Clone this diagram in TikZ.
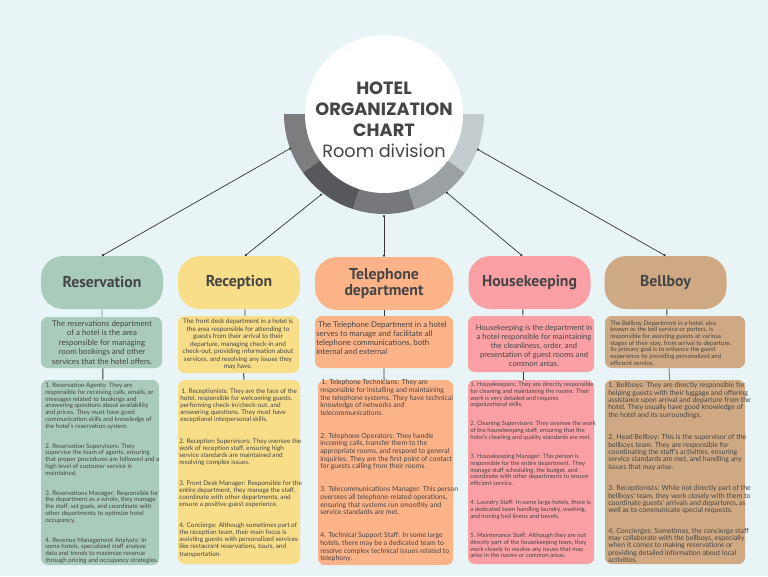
\documentclass[tikz,border=0pt]{standalone}
\usepackage{fontspec}
\setmainfont{Lato}
\newfontfamily\titlefont{Poppins}
\newfontfamily\headfont{PT Sans}
\usetikzlibrary{arrows.meta}
\definecolor{pagebg}{HTML}{E9F4F6}
\definecolor{inkgray}{HTML}{454545}
\definecolor{linkgray}{HTML}{3A3A3C}
\definecolor{resgreen}{HTML}{A9CBBB}
\definecolor{recyellow}{HTML}{F9DE8A}
\definecolor{telorange}{HTML}{FDB388}
\definecolor{houpink}{HTML}{FAA0A5}
\definecolor{beltan}{HTML}{CFA983}
\definecolor{ringA}{HTML}{7D7D80}
\definecolor{ringB}{HTML}{58585C}
\definecolor{ringC}{HTML}{77787C}
\definecolor{ringD}{HTML}{9BA0A3}
\definecolor{ringE}{HTML}{C3CCCF}
\tikzset{
  headbox/.style={rounded corners=16.5pt,minimum width=#1,minimum height=39.75pt,inner sep=0pt,align=center,text=inkgray,
    font=\headfont\bfseries\fontsize{11.8}{12.6}\selectfont},
  panel/.style={rounded corners=5pt,inner sep=0pt},
  bodytext/.style 2 args={inner sep=0pt,text=inkgray,font=\fontsize{#1}{#2}\selectfont},
  hublink/.style={draw=linkgray,line width=0.55pt,{Circle[length=1.7pt]}-{Circle[length=1.7pt]}},
  boxlink/.style={draw=linkgray,line width=0.7pt},
}
\begin{document}
\begin{tikzpicture}[x=0.75pt,y=0.75pt,yscale=-1,xscale=1]
  \useasboundingbox (0,0) rectangle (768,576);
  \fill [pagebg] (0,0) rectangle (768,576);

  %Shape: ring of five segments
  \foreach \i/\ringcol in {0/ringA,1/ringB,2/ringC,3/ringD,4/ringE}
    \fill [\ringcol,shift={(384,114)}] (180-36*\i:100) arc [start angle=180-36*\i,end angle=144-36*\i,radius=100] -- (144-36*\i:70) arc [start angle=144-36*\i,end angle=180-36*\i,radius=70] -- cycle;

  %Shape: hub circle
  \node (hub) [circle,fill=white,minimum size=118.5pt,inner sep=0pt] at (384,114) {};
  % Text Node
  \node (hubtitle) [align=center,text=inkgray,inner sep=0pt,font=\titlefont\bfseries\fontsize{13.3}{15.75}\selectfont] at (384,109) {HOTEL\\ORGANIZATION\\CHART};
  % Text Node
  \node (hubsub) [text=inkgray,inner sep=0pt,font=\titlefont\fontsize{13.3}{15.75}\selectfont] at (384,151) {Room division};

  %Shape: department headers
  \node (reservation) [headbox=91.5pt,fill=resgreen] at (102,282.5) {Reservation};
  \node (reception) [headbox=91.5pt,fill=recyellow] at (239,282.5) {Reception};
  \node (telephone) [headbox=103.5pt,fill=telorange] at (384,283.5) {Telephone\\department};
  \node (housekeeping) [headbox=91.5pt,fill=houpink] at (529.5,282.5) {Housekeeping};
  \node (bellboy) [headbox=91.5pt,fill=beltan] at (665.5,282.5) {Bellboy};

  %Shape: description panels
  \node (resDesc) [panel,fill=resgreen,minimum width=90.75pt,minimum height=38.25pt] at (101.5,342.5) {};
  \node (recDesc) [panel,fill=recyellow,minimum width=90.75pt,minimum height=42.75pt] at (238.5,344.5) {};
  \node (telDesc) [panel,fill=telorange,minimum width=103.5pt,minimum height=39pt] at (384,342) {};
  \node (houDesc) [panel,fill=houpink,minimum width=94.5pt,minimum height=42pt] at (531,344) {};
  \node (belDesc) [panel,fill=beltan,minimum width=105pt,minimum height=39pt] at (675,342) {};

  %Shape: list panels
  \node (resList) [panel,fill=resgreen,minimum width=88.5pt,minimum height=138.75pt] at (100,472.5) {};
  \node (recList) [panel,fill=recyellow,minimum width=91.5pt,minimum height=138pt] at (239,472) {};
  \node (telList) [panel,fill=telorange,minimum width=101.25pt,minimum height=138.75pt] at (385.5,472.5) {};
  \node (houList) [panel,fill=houpink,minimum width=94.5pt,minimum height=138pt] at (531,472) {};
  \node (belList) [panel,fill=beltan,minimum width=105pt,minimum height=138pt] at (675,472) {};

  %Straight Lines: hub to departments
  \coordinate (ringResv) at (291,148);
  \coordinate (ringRecp) at (322,194);
  \coordinate (ringTele) at (384,215);
  \coordinate (ringHous) at (446,192);
  \coordinate (ringBell) at (477,149);
  \draw [hublink] (ringResv) -- (reservation.north);
  \draw [hublink] (ringRecp) -- ([xshift=4.5pt]reception.north);
  \draw [hublink] (ringTele) -- (telephone.north);
  \draw [hublink] (ringHous) -- ([xshift=-5.5pt]housekeeping.north);
  \draw [hublink] (ringBell) -- (bellboy.north);

  %Straight Lines: header to panel to list
  \draw [boxlink,draw=gray] (reservation.south) -- ([xshift=0.4pt]resDesc.north);
  \draw [boxlink] ([xshift=1pt]resDesc.south) -- ([xshift=2.2pt]resList.north);
  \draw [boxlink] ([xshift=4.5pt]reception.south) -- ([xshift=4.9pt]recDesc.north);
  \draw [boxlink] ([xshift=3.8pt]recDesc.south) -- ([xshift=3.8pt]recList.north);
  \draw [boxlink] (telephone.south) -- (telDesc.north);
  \draw [boxlink] (telDesc.south) -- ([xshift=-1.1pt]telList.north);
  \draw [boxlink] ([xshift=-5pt]housekeeping.south) -- ([xshift=-6pt]houDesc.north);
  \draw [boxlink] ([xshift=-6pt]houDesc.south) -- ([xshift=-6pt]houList.north);
  \draw [boxlink] ([xshift=1pt]bellboy.south) -- ([xshift=-6pt]belDesc.north);
  \draw [boxlink,draw=gray] ([xshift=-4.5pt]belDesc.south) -- ([xshift=-4pt]belList.north);

  % Text Node: descriptions
  \node (resDescText) [bodytext={5.9}{7.2},align=center] at (102,342.5) {The reservations department\\of a hotel is the area\\responsible for managing\\room bookings and other\\services that the hotel offers.};
  \node (recDescText) [bodytext={4.85}{5.6},align=center] at (238,344.5) {The front desk department in a hotel is\\the area responsible for attending to\\guests from their arrival to their\\departure, managing check-in and\\check-out, providing information about\\services, and resolving any issues they\\may have.};
  \node (telDescText) [bodytext={5.9}{6.75},align=left,anchor=north west] at (316,321) {\hspace*{1.5pt}The Telephone Department in a hotel\\serves to manage and facilitate all\\telephone communications, both\\internal and external};
  \node (houDescText) [bodytext={5.7}{6.75},align=center] at (534,346) {Housekeeping is the department in\\a hotel responsible for maintaining\\the cleanliness, order, and\\presentation of guest rooms and\\common areas.};
  \node (belDescText) [bodytext={4.6}{5},align=left,anchor=north west] at (610,320.5) {The Bellboy Department in a hotel, also\\known as the bell service or porters, is\\responsible for assisting guests at various\\stages of their stay, from arrival to departure.\\Its primary goal is to enhance the guest\\experience by providing personalized and\\efficient service.};

  % Text Node: reservation list
  \begin{scope}[every node/.style={bodytext={4.65}{5.15},align=left,anchor=north west}]
    \node (resItemA) at (45,382.5) {1. Reservation Agents: They are\\responsible for receiving calls, emails, or\\messages related to bookings and\\answering questions about availability\\and prices. They must have good\\communication skills and knowledge of\\the hotel's reservation system.};
    \node (resItemB) at (45,443.2) {2. Reservation Supervisors: They\\supervise the team of agents, ensuring\\that proper procedures are followed and a\\high level of customer service is\\maintained.};
    \node (resItemC) at (45,490.2) {3. Reservations Manager: Responsible for\\the department as a whole, they manage\\the staff, set goals, and coordinate with\\other departments to optimize hotel\\occupancy.};
    \node (resItemD) at (45,537.2) {4. Revenue Management Analysts: In\\some hotels, specialized staff analyze\\data and trends to maximize revenue\\through pricing and occupancy strategies.};
  \end{scope}

  % Text Node: reception list
  \begin{scope}[every node/.style={bodytext={4.8}{5.3},align=left,anchor=north west}]
    \node (recItemA) at (180,388.5) {\hspace*{0.8pt}1. Receptionists: They are the face of the\\hotel, responsible for welcoming guests,\\performing check-in/check-out, and\\answering questions. They must have\\exceptional interpersonal skills.};
    \node (recItemB) at (179,438.5) {2. Reception Supervisors: They oversee the\\work of reception staff, ensuring high\\service standards are maintained and\\resolving complex issues.};
    \node (recItemC) at (179,480.5) {3. Front Desk Manager: Responsible for the\\entire department, they manage the staff,\\coordinate with other departments, and\\ensure a positive guest experience.};
    \node (recItemD) at (179,522.8) {4. Concierge: Although sometimes part of\\the reception team, their main focus is\\assisting guests with personalized services\\like restaurant reservations, tours, and\\transportation.};
  \end{scope}

  % Text Node: telephone list
  \begin{scope}[every node/.style={bodytext={5.2}{5.7},align=left,anchor=north west}]
    \node (telItemA) at (320,379.5) {\hspace*{0.8pt}1. Telephone Technicians: They are\\responsible for installing and maintaining\\the telephone systems. They have technical\\knowledge of networks and\\telecommunications.};
    \node (telItemB) at (320,433) {2. Telephone Operators: They handle\\incoming calls, transfer them to the\\appropriate rooms, and respond to general\\inquiries. They are the first point of contact\\for guests calling from their rooms.};
    \node (telItemC) at (320,486.5) {3. Telecommunications Manager: This person\\oversees all telephone-related operations,\\ensuring that systems run smoothly and\\service standards are met.};
    \node (telItemD) at (320,532.5) {4. Technical Support Staff: In some large\\hotels, there may be a dedicated team to\\resolve complex technical issues related to\\telephony.};
  \end{scope}

  % Text Node: housekeeping list
  \begin{scope}[every node/.style={bodytext={4.5}{5},align=left,anchor=north west}]
    \node (houItemA) at (470,382.2) {1. Housekeepers: They are directly responsible\\for cleaning and maintaining the rooms. Their\\work is very detailed and requires\\organizational skills.};
    \node (houItemB) at (470,421.2) {2. Cleaning Supervisors: They oversee the work\\of the housekeeping staff, ensuring that the\\hotel's cleaning and quality standards are met.};
    \node (houItemC) at (470,454.2) {3. Housekeeping Manager: This person is\\responsible for the entire department. They\\manage staff scheduling, the budget, and\\coordinate with other departments to ensure\\efficient service.};
    \node (houItemD) at (470,500.2) {4. Laundry Staff: In some large hotels, there is\\a dedicated team handling laundry, washing,\\and ironing bed linens and towels.};
    \node (houItemE) at (470,533.2) {5. Maintenance Staff: Although they are not\\directly part of the housekeeping team, they\\work closely to resolve any issues that may\\arise in the rooms or common areas.};
  \end{scope}

  % Text Node: bellboy list
  \begin{scope}[every node/.style={bodytext={5.25}{5.5},align=left,anchor=north west}]
    \node (belItemA) at (608,382.5) {1. Bellboys: They are directly responsible for\\helping guests with their luggage and offering\\assistance upon arrival and departure from the\\hotel. They usually have good knowledge of\\the hotel and its surroundings.};
    \node (belItemB) at (608,434.5) {2. Head Bellboy: This is the supervisor of the\\bellboys team. They are responsible for\\coordinating the staff's activities, ensuring\\service standards are met, and handling any\\issues that may arise.};
    \node (belItemC) at (608,485.5) {3. Receptionists: While not directly part of the\\bellboys' team, they work closely with them to\\coordinate guests' arrivals and departures, as\\well as to communicate special requests.};
    \node (belItemD) at (608,527.8) {4. Concierges: Sometimes, the concierge staff\\may collaborate with the bellboys, especially\\when it comes to making reservations or\\providing detailed information about local\\activities.};
  \end{scope}
\end{tikzpicture}
\end{document}
